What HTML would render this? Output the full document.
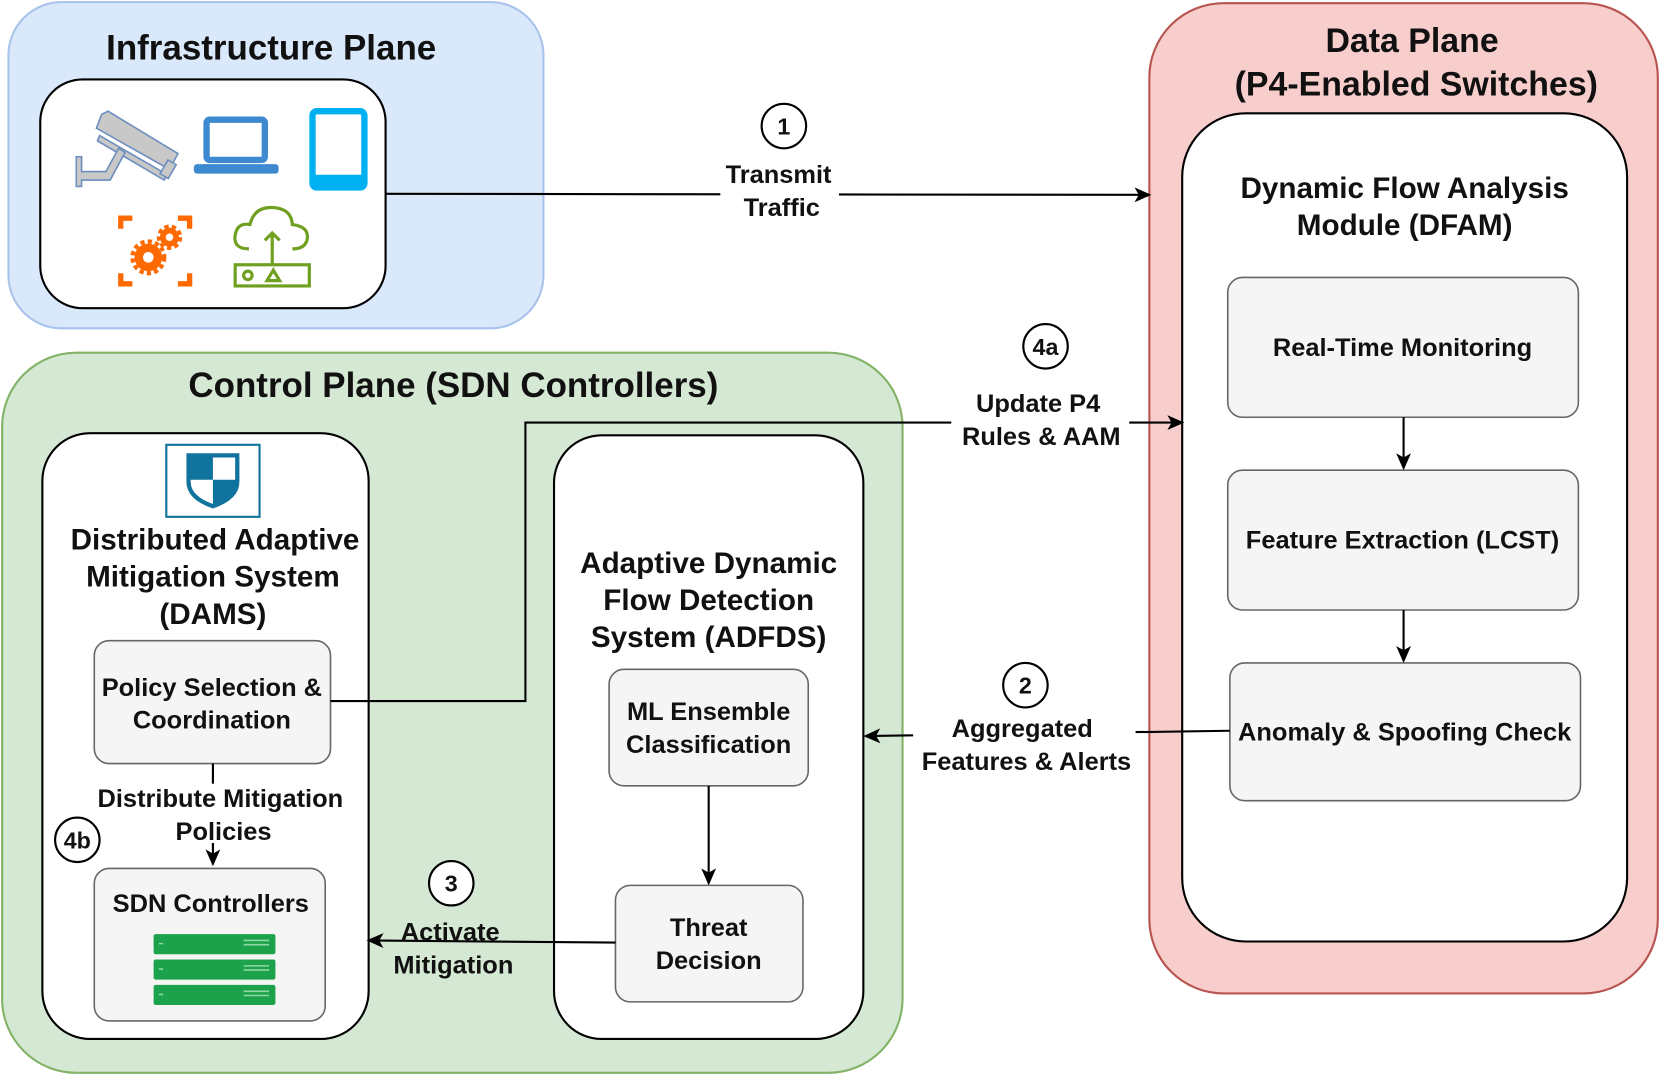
<!DOCTYPE html>
<html><head><meta charset="utf-8"><style>
html,body{margin:0;padding:0;background:#fff;}
svg{display:block;}
text{font-family:"Liberation Sans",sans-serif;font-weight:bold;fill:#111;text-anchor:middle;}
</style></head><body>
<svg width="1661" height="1076" viewBox="0 0 1568 1016" preserveAspectRatio="none" xmlns="http://www.w3.org/2000/svg">
<defs>
<marker id="ar" markerWidth="16" markerHeight="16" refX="14" refY="8" orient="auto" markerUnits="userSpaceOnUse">
<path d="M0,1 L16,8 L0,15 L4,8 z" fill="#000"/></marker>
</defs>
<rect width="1568" height="1016" fill="#fff"/>
<!-- Infrastructure -->
<rect x="8" y="2" width="505" height="308" rx="50" fill="#dae8fc" stroke="#a9c4eb" stroke-width="2"/>
<text x="256" y="56" font-size="33">Infrastructure Plane</text>
<rect x="38" y="75" width="326" height="216" rx="40" fill="#fff" stroke="#000" stroke-width="2"/>
<!-- camera -->
<g fill="#c8c8c8" stroke="#6c8ebf" stroke-width="1.5">
<path d="M96,108 L102,105 L168,145 L160,160 L91,121 z"/>
<path d="M94,128 L158,165 L155,170 L92,133 z"/>
<path d="M72,148 L77,148 L77,162 L100,162 L112,140 L118,144 L104,170 L77,170 L77,176 L72,176 z"/>
<rect x="154" y="152" width="9" height="15" transform="rotate(30 158 160)"/>
</g>
<!-- laptop -->
<rect x="195" y="113" width="55" height="38" rx="3" fill="#fff" stroke="#3d8ad1" stroke-width="6"/>
<rect x="183" y="155" width="80" height="9" rx="3" fill="#3d8ad1"/>
<!-- phone -->
<rect x="295" y="105" width="49" height="72" rx="4" fill="#fff" stroke="#00b0f0" stroke-width="6"/>
<rect x="296" y="165" width="47" height="11" fill="#00b0f0"/>
<!-- gears -->
<g stroke="#ff6a00" stroke-width="5" fill="none">
<path d="M114,216 L114,206 L125,206"/><path d="M168,206 L179,206 L179,216"/>
<path d="M114,258 L114,268 L125,268"/><path d="M168,268 L179,268 L179,258"/>
</g>
<g fill="#ff6a00">
<circle cx="140" cy="243" r="13"/><circle cx="160" cy="224" r="9"/>
</g>
<g fill="#ff6a00" stroke="#ff6a00" stroke-width="4" stroke-dasharray="4 3">
<circle cx="140" cy="243" r="15" fill="none"/><circle cx="160" cy="224" r="10" fill="none"/>
</g>
<circle cx="140" cy="243" r="5" fill="#fff"/><circle cx="160" cy="224" r="3.5" fill="#fff"/>
<!-- cloud -->
<g stroke="#70a020" stroke-width="3" fill="none">
<path d="M235,235 Q220,235 222,222 Q224,210 236,212 Q240,195 258,196 Q275,197 276,212 Q292,214 290,226 Q288,235 276,235"/>
<path d="M257,250 L257,220 M250,227 L257,220 L264,227"/>
<rect x="222" y="250" width="70" height="20"/>
<circle cx="234" cy="260" r="4"/><path d="M252,265 L258,255 L264,265 z"/>
</g>
<!-- Data plane -->
<rect x="1085" y="3" width="480" height="935" rx="70" fill="#f8cecc" stroke="#b85450" stroke-width="2"/>
<text x="1333" y="49" font-size="32">Data Plane</text>
<text x="1337" y="90" font-size="32">(P4-Enabled Switches)</text>
<rect x="1116" y="107" width="420" height="782" rx="60" fill="#fff" stroke="#000" stroke-width="2"/>
<text x="1326" y="187" font-size="28">Dynamic Flow Analysis</text>
<text x="1326" y="222" font-size="28">Module (DFAM)</text>
<g fill="#f5f5f5" stroke="#666" stroke-width="1.5">
<rect x="1159" y="262" width="331" height="132" rx="14"/>
<rect x="1159" y="444" width="331" height="132" rx="14"/>
<rect x="1161" y="626" width="331" height="130" rx="14"/>
</g>
<text x="1324" y="336" font-size="24">Real-Time Monitoring</text>
<text x="1324" y="518" font-size="24">Feature Extraction (LCST)</text>
<text x="1326" y="699" font-size="24">Anomaly &amp; Spoofing Check</text>
<line x1="1325" y1="394" x2="1325" y2="442" stroke="#000" stroke-width="2" marker-end="url(#ar)"/>
<line x1="1325" y1="576" x2="1325" y2="624" stroke="#000" stroke-width="2" marker-end="url(#ar)"/>
<!-- Control plane -->
<rect x="2" y="333" width="850" height="680" rx="70" fill="#d5e8d4" stroke="#82b366" stroke-width="2"/>
<text x="428" y="375" font-size="33">Control Plane  (SDN Controllers)</text>
<rect x="40" y="409" width="308" height="572" rx="45" fill="#fff" stroke="#000" stroke-width="2"/>
<rect x="157" y="420" width="88" height="68" fill="#fff" stroke="#10739e" stroke-width="2"/>
<path d="M178,430 L224,430 L224,455 Q224,470 201,478 Q178,470 178,455 z" fill="#fff" stroke="#10739e" stroke-width="4"/>
<path d="M178,430 L201,430 L201,453 L178,453 z M201,453 L224,453 L224,456 Q224,470 201,478 z" fill="#10739e"/>
<text x="203" y="519" font-size="28">Distributed Adaptive</text>
<text x="201" y="554" font-size="28">Mitigation System</text>
<text x="201" y="589" font-size="28">(DAMS)</text>
<rect x="89" y="605" width="223" height="116" rx="14" fill="#f5f5f5" stroke="#666" stroke-width="1.5"/>
<text x="200" y="657" font-size="24">Policy Selection &amp;</text>
<text x="200" y="688" font-size="24">Coordination</text>
<rect x="89" y="820" width="218" height="144" rx="14" fill="#f5f5f5" stroke="#666" stroke-width="1.5"/>
<text x="199" y="861" font-size="24">SDN Controllers</text>
<g fill="#1ba24a">
<rect x="145" y="882" width="115" height="19" rx="2"/>
<rect x="145" y="906" width="115" height="19" rx="2"/>
<rect x="145" y="930" width="115" height="19" rx="2"/>
</g>
<g stroke="#8fd7a5" stroke-width="1.5">
<path d="M150,891 h4 M150,915 h4 M150,939 h4 M230,888 h24 M230,892 h24 M230,912 h24 M230,916 h24 M230,936 h24 M230,940 h24"/>
</g>
<line x1="201" y1="721" x2="201" y2="816" stroke="#000" stroke-width="2" marker-end="url(#ar)"/>
<rect x="86" y="740" width="244" height="56" fill="#fff"/>
<text x="208" y="762" font-size="24">Distribute Mitigation</text>
<text x="211" y="793" font-size="24">Policies</text>
<circle cx="73" cy="793" r="21" fill="#fff" stroke="#000" stroke-width="2"/>
<text x="73" y="801" font-size="22">4b</text>
<rect x="523" y="411" width="292" height="570" rx="45" fill="#fff" stroke="#000" stroke-width="2"/>
<text x="669" y="541" font-size="28">Adaptive Dynamic</text>
<text x="669" y="576" font-size="28">Flow Detection</text>
<text x="669" y="611" font-size="28">System (ADFDS)</text>
<rect x="575" y="632" width="188" height="110" rx="14" fill="#f5f5f5" stroke="#666" stroke-width="1.5"/>
<text x="669" y="680" font-size="24">ML Ensemble</text>
<text x="669" y="711" font-size="24">Classification</text>
<rect x="581" y="836" width="177" height="110" rx="14" fill="#f5f5f5" stroke="#666" stroke-width="1.5"/>
<text x="669" y="884" font-size="24">Threat</text>
<text x="669" y="915" font-size="24">Decision</text>
<line x1="669" y1="742" x2="669" y2="834" stroke="#000" stroke-width="2" marker-end="url(#ar)"/>
<!-- connectors -->
<line x1="581" y1="890" x2="348" y2="888" stroke="#000" stroke-width="2" marker-end="url(#ar)"/>
<text x="425" y="888" font-size="24">Activate</text>
<text x="428" y="919" font-size="24">Mitigation</text>
<circle cx="426" cy="834" r="21" fill="#fff" stroke="#000" stroke-width="2"/>
<text x="426" y="842" font-size="22">3</text>
<line x1="1161" y1="690" x2="817" y2="695" stroke="#000" stroke-width="2" marker-end="url(#ar)"/>
<rect x="862" y="672" width="210" height="60" fill="#fff"/>
<text x="965" y="696" font-size="24">Aggregated</text>
<text x="969" y="727" font-size="24">Features &amp; Alerts</text>
<circle cx="968" cy="647" r="21" fill="#fff" stroke="#000" stroke-width="2"/>
<text x="968" y="655" font-size="22">2</text>
<polyline points="312,662 496,662 496,399 1116,399" fill="none" stroke="#000" stroke-width="2" marker-end="url(#ar)"/>
<rect x="898" y="366" width="168" height="60" fill="#fff"/>
<text x="980" y="389" font-size="24">Update P4</text>
<text x="983" y="420" font-size="24">Rules &amp; AAM</text>
<circle cx="987" cy="327" r="21" fill="#fff" stroke="#000" stroke-width="2"/>
<text x="987" y="335" font-size="22">4a</text>
<line x1="364" y1="183" x2="1085" y2="184" stroke="#000" stroke-width="2" marker-end="url(#ar)"/>
<rect x="680" y="150" width="112" height="60" fill="#fff"/>
<text x="735" y="173" font-size="24">Transmit</text>
<text x="738" y="204" font-size="24">Traffic</text>
<circle cx="740" cy="119" r="21" fill="#fff" stroke="#000" stroke-width="2"/>
<text x="740" y="127" font-size="22">1</text>
</svg>
</body></html>
